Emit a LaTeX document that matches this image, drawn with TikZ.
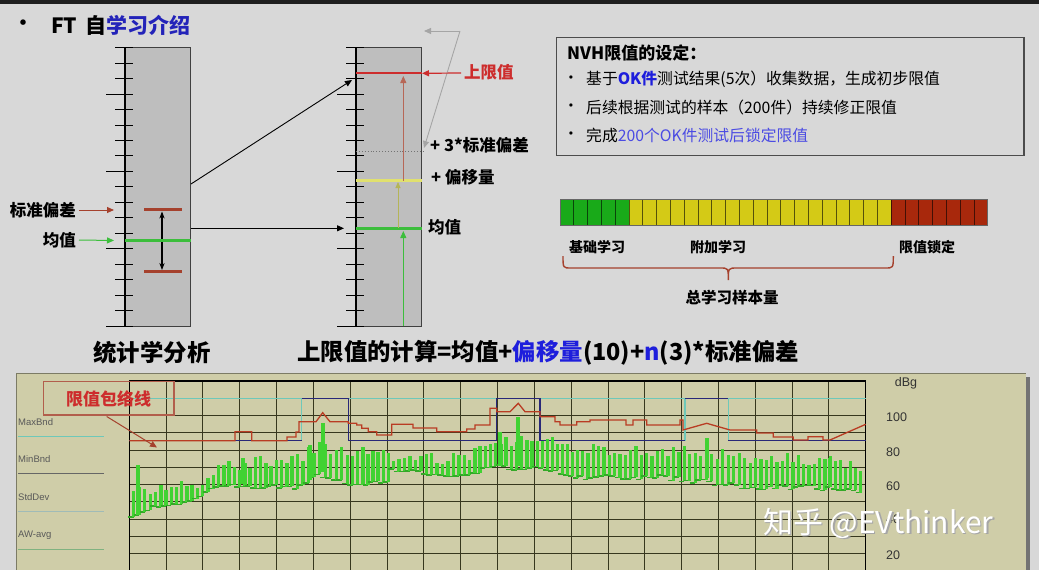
\documentclass[tikz,border=0pt]{standalone}
\usepackage{fontspec}
\setmainfont{Noto Sans CJK SC}
\newfontfamily\arialf{Liberation Sans}
\usetikzlibrary{arrows.meta}
\definecolor{bgc}{RGB}{216,216,216}
\definecolor{rulerfill}{RGB}{190,190,190}
\definecolor{tblue}{RGB}{35,35,185}
\definecolor{fblue}{RGB}{30,30,220}
\definecolor{brownr}{RGB}{165,65,45}
\definecolor{lgreen}{RGB}{60,190,60}
\definecolor{redl}{RGB}{205,45,45}
\definecolor{yell}{RGB}{225,225,110}
\definecolor{cg}{RGB}{25,170,25}
\definecolor{cy}{RGB}{212,202,22}
\definecolor{cr}{RGB}{168,40,12}
\definecolor{chartbg}{RGB}{207,205,168}
\definecolor{gridc}{RGB}{55,55,30}
\definecolor{tealc}{RGB}{110,200,185}
\definecolor{navyc}{RGB}{40,40,120}
\definecolor{envc}{RGB}{185,60,35}
\definecolor{barc}{RGB}{65,210,50}
\definecolor{ghostc}{RGB}{165,165,165}
\tikzset{
  lbl/.style={inner sep=0pt, font=\bfseries\fontsize{16.5}{18}\selectfont},
  capt/.style={inner sep=0pt, font=\bfseries\fontsize{23.4}{26}\selectfont},
  boxt/.style={inner sep=0pt, font=\fontsize{15.8}{17}\selectfont},
  barl/.style={inner sep=0pt, font=\bfseries\fontsize{14}{16}\selectfont},
  legl/.style={inner sep=0pt, font=\arialf\fontsize{9.5}{11}\selectfont, text=black!65},
  dbl/.style={inner sep=0pt, font=\arialf\fontsize{12.5}{14}\selectfont, text=black!80},
  barg/.style={draw=barc, line width=3.4pt},
  combl/.style={draw=barc!80!black, line width=1.6pt},
  tickl/.style={line width=0.9pt},
  arr/.style={-{Triangle[length=7pt,width=6pt]}},
}
\newcommand\drawruler[1]{%
  \fill[rulerfill] (#1,47.7) rectangle ({#1+65.7},326);
  \draw[black!75, line width=0.8pt] (#1,47.7) -- ({#1+65.7},47.7) -- ({#1+65.7},326) -- (#1,326);
  \draw[line width=1.1pt] (#1,47.7) -- (#1,326);
  \foreach \i in {0,...,18}{%
    \pgfmathsetmacro\yy{47.7+\i*15.46}%
    \pgfmathsetmacro\tl{mod(\i,5)==3 ? 19 : 10}%
    \draw[tickl] ({#1-\tl},\yy) -- ({#1+8},\yy);
  }%
}
\begin{document}
\begin{tikzpicture}[x=1pt,y=-1pt]
\useasboundingbox (0,0) rectangle (1039,570);
\clip (0,0) rectangle (1039,570);
\fill[bgc] (0,0) rectangle (1039,570);
\fill[black!88] (0,0) rectangle (1039,4);

% title
\node[inner sep=0pt, font=\fontsize{26}{28}\selectfont] (bul) at (23,26) {•};
\node[inner sep=0pt, anchor=west, font=\bfseries\fontsize{21}{24}\selectfont] (title) at (51,25) {FT\, 自\textcolor{tblue}{学习介绍}};

% left ruler
\drawruler{125}
\draw[brownr, line width=2.5pt] (144,209.7) -- (182,209.7);
\draw[brownr, line width=2.5pt] (144,271.7) -- (182,271.7);
\draw[line width=1.4pt, {Stealth[length=7pt]}-{Stealth[length=7pt]}] (162,211.5) -- (162,270);
\draw[lgreen, line width=3pt] (125,240.5) -- (191,240.5);
\node[lbl, anchor=east] (lsd) at (76,210) {标准偏差};
\node[lbl, anchor=east] (lmean) at (76,240) {均值};
\coordinate (lsdt) at (114,210);
\coordinate (lmeant) at (114,240.5);
\draw[brownr, line width=1pt, arr] (lsd.east) ++(3,0) -- (lsdt);
\draw[lgreen, line width=1pt, arr] (lmean.east) ++(3,0) -- (lmeant);

% connecting arrows
\coordinate (la1) at (191,184);
\coordinate (ra1) at (352,80);
\coordinate (la2) at (191,228.3);
\coordinate (ra2) at (344,228.3);
\draw[line width=0.9pt, arr] (la1) -- (ra1);
\draw[line width=0.9pt, arr] (la2) -- (ra2);

% right ruler
\drawruler{356}
\draw[redl, line width=2pt] (356,73.3) -- (421.7,73.3);
\draw[black!55, line width=0.9pt, dotted] (356,151) -- (425,151);
\draw[yell, line width=3pt] (356,180) -- (421.7,180);
\draw[lgreen, line width=2.5pt] (356,228.7) -- (421.7,228.7);
\draw[yell!80!black, line width=0.9pt, -{Triangle[length=6pt,width=5pt]}] (398,228) -- (398,182);
\draw[brownr!80, line width=0.9pt, -{Triangle[length=7pt,width=6pt]}] (403.3,181) -- (403.3,76);
\draw[lgreen, line width=0.9pt, -{Triangle[length=7pt,width=6pt]}] (403.3,326) -- (403.3,231);
% ghost arrows
\coordinate (g0) at (460,31);
\coordinate (g1) at (424,31);
\coordinate (g2) at (424,148);
\draw[ghostc, line width=0.9pt, -{Triangle[length=7pt,width=6pt]}] (g0) -- (g1);
\draw[ghostc, line width=0.9pt, -{Triangle[length=7pt,width=6pt]}] (g0) -- (g2);

\node[lbl, anchor=west, text=redl] (upper) at (464,72) {上限值};
\coordinate (uppert) at (422,73.3);
\draw[redl, line width=1.2pt, arr] (upper.west) ++(-3,1) -- (uppert);
\node[lbl, anchor=west] (p3sd) at (430,145) {+ 3*标准偏差};
\node[lbl, anchor=west] (poff) at (431,177) {+ 偏移量};
\node[lbl, anchor=west] (rmean) at (428,227) {均值};

% captions
\node[capt] (cap1) at (152,353) {统计学分析};
\node[capt, anchor=west] (cap2) at (297,353) {上限值的计算=均值+\textcolor{fblue}{偏移量}(10)+\textcolor{fblue}{n}(3)*标准偏差};

% NVH box
\draw[black!70, line width=1.2pt] (556.7,37.3) rectangle (1024,155.7);
\node[inner sep=0pt, anchor=west, font=\bfseries\fontsize{17}{19}\selectfont] (nvh) at (567,52.7) {NVH限值的设定：};
\node[boxt] (b1) at (571,79.3) {•};
\node[boxt] (b2) at (571,107.3) {•};
\node[boxt] (b3) at (571,135.3) {•};
\node[boxt, anchor=west] (t1) at (586,79.3) {基于\textcolor{fblue}{\bfseries OK件}测试结果(5次）收集数据，生成初步限值};
\node[boxt, anchor=west] (t2) at (586,107.3) {后续根据测试的样本（200件）持续修正限值};
\node[boxt, anchor=west] (t3) at (586,135.3) {完成\textcolor{fblue!80}{200个OK件测试后锁定限值}};

% colour bar
\foreach \i in {0,...,30}{%
  \pgfmathsetmacro\cx{560+\i*13.8}%
  \ifnum\i<5 \def\cc{cg}\else\ifnum\i<24 \def\cc{cy}\else\def\cc{cr}\fi\fi
  \fill[\cc] (\cx,199) rectangle ({\cx+13.8},225);
  \draw[black!60!\cc, line width=0.7pt] (\cx,199) rectangle ({\cx+13.8},225);
}
\draw[black!60, line width=0.8pt] (560,199) rectangle (987.8,225);
\node[barl, anchor=west] (l1) at (569,247) {基础学习};
\node[barl, anchor=west] (l2) at (690,247) {附加学习};
\node[barl, anchor=west] (l3) at (899,247) {限值锁定};
\draw[brownr, line width=1.4pt] (563,256) .. controls (563,268) .. (571,268) -- (720,268) .. controls (728.3,268) .. (728.3,280) .. controls (728.3,268) .. (737,268) -- (885,268) .. controls (893.3,268) .. (893.3,256);
\node[inner sep=0pt, font=\bfseries\fontsize{15.5}{17}\selectfont] (tot) at (732,298) {总学习样本量};

% chart
\fill[black!55] (20,377) rectangle (1030,575);
\fill[chartbg] (16.7,373.3) rectangle (1025.7,575);
\draw[black!40!chartbg, line width=0.8pt] (16.7,575) -- (16.7,373.3) -- (1025.7,373.3);
% grid
\foreach \i in {0,...,20}{%
  \pgfmathsetmacro\gx{129.3+\i*36.82}%
  \draw[gridc, line width=0.9pt] (\gx,381) -- (\gx,575);
}
\foreach \j in {0,...,11}{%
  \pgfmathsetmacro\gy{381+\j*17.27}%
  \draw[gridc, line width=0.9pt] (129.3,\gy) -- (865.7,\gy);
}
\draw[black, line width=1.3pt] (129.3,575) -- (129.3,381) -- (865.7,381) -- (865.7,575);

% legend
\node[legl, anchor=west] (mx) at (18,421.7) {MaxBnd};
\node[legl, anchor=west] (mn) at (18,459.3) {MinBnd};
\node[legl, anchor=west] (sd) at (18,497.3) {StdDev};
\node[legl, anchor=west] (aw) at (18,535) {AW-avg};
\draw[tealc, line width=1pt] (18,436) -- (104,436);
\draw[black!60, line width=1.3pt] (18,473.7) -- (104,473.7);
\draw[tealc!60!black!50, line width=1pt] (18,511.7) -- (104,511.7);
\draw[green!40!black!50, line width=1pt] (18,549.3) -- (104,549.3);

% axis labels
\node[dbl] (dbg) at (906,383) {dBg};
\node[dbl, anchor=west] (d100) at (886,416.7) {100};
\node[dbl, anchor=west] (d80) at (886,451.7) {80};
\node[dbl, anchor=west] (d60) at (886,486) {60};
\node[dbl, anchor=west] (d40) at (886,519.5) {40};
\node[dbl, anchor=west] (d20) at (886,555) {20};

% MaxBnd / MinBnd lines
\draw[tealc, line width=1pt] (129.3,398.3) -- (865.7,398.3);
\draw[tealc, line width=1.2pt] (301.7,398.3) -- (301.7,440.7) (685,398.3) -- (685,440.7) (728.3,398.3) -- (728.3,440.7);
\draw[navyc, line width=1.2pt] (129.3,440.7) -- (301.7,440.7) (301.7,398.3) -- (348.3,398.3) -- (348.3,440.7) -- (496.7,440.7) -- (496.7,398.3) -- (540,398.3) -- (540,440.7) -- (685,440.7) (685,398.3) -- (728.3,398.3) (728.3,440.7) -- (865.7,440.7);

% green bars
\pgfmathsetseed{7}
\foreach \xa/\ba/\ta/\xb/\bb/\tb in {131/519/490/153/507/488, 153/507/488/200/500/483, 200/500/483/216/486/467, 216/486/467/300/487/457, 300/487/457/317/475/448, 317/475/448/350/485/450, 350/485/450/391/483/455, 391/470/460/467/477/458, 467/477/458/493/467/443, 493/467/443/540/468/436, 540/468/436/580/477/450, 580/477/450/660/477/450, 660/477/450/687/480/452, 687/480/452/753/487/457, 753/487/457/833/488/460, 833/488/460/863/492/467}{%
  \pgfmathsetmacro\dx{(\xb-\xa)}%
  \pgfmathtruncatemacro\nn{max(1,round(\dx/5.3))}%
  \pgfmathsetmacro\sp{\dx/\nn}%
  \foreach \k in {1,...,\nn}{%
    \pgfmathsetmacro\tq{(\k-0.5)/\nn}%
    \pgfmathsetmacro\xx{\xa+\tq*\dx}%
    \pgfmathsetmacro\yb{\ba+\tq*(\bb-\ba)+2.5*rand}%
    \pgfmathsetmacro\yt{\ta+\tq*(\tb-\ta)+6*rand}%
    \draw[combl] ({\xx-\sp},\yb) -- (\xx,\yb);
    \draw[barg] (\xx,\yb) -- (\xx,\yt);
  }%
}
\foreach \sx/\sb/\st in {138/515/465, 243/484/458, 310/480/445, 323/472/423, 500/466/432, 518/466/417, 707/478/438, 830/486/458}{%
  \draw[barg] (\sx,\sb) -- (\sx,\st);
}

% envelope
\draw[envc, line width=1.3pt] (129.3,440.7) -- (235,440.7) -- (235,431.7) -- (251.7,431.7) -- (251.7,440.7) -- (287,440.7) -- (287,437) -- (296,437) -- (296,432) -- (299,432) -- (299,421.7) -- (316,421.7) -- (322.7,412.7) -- (330,421.7) -- (348.3,421.7) -- (348.3,423.3) -- (356.7,423.3) -- (356.7,425) -- (361.7,425) -- (361.7,428.3) -- (368.3,428.3) -- (368.3,431.7) -- (376.7,431.7) -- (376.7,435) -- (391.7,435) -- (391.7,424.3) -- (413,424.3) -- (413,428) -- (436.7,428) -- (436.7,431.7) -- (466.7,431.7) -- (466.7,429) -- (475,429) -- (475,425) -- (490,425) -- (490,408.3) -- (496.7,408.3) -- (496.7,411.7) -- (510,411.7) -- (518.3,403.3) -- (525,411.7) -- (540,411.7) -- (540,416.7) -- (555,416.7) -- (555,421.7) -- (560,421.7) -- (560,425) -- (576.7,425) -- (576.7,421.7) -- (590,421.7) -- (590,420) -- (626,420) -- (626,425) -- (633,425) -- (633,420) -- (646.7,420) -- (646.7,425) -- (680,425) -- (680,420) -- (683,420) -- (683,430) -- (706.7,423.3) -- (730,430) -- (756.7,430) -- (756.7,433) -- (773.3,433) -- (773.3,437) -- (793.3,437) -- (793.3,440) -- (808,440) -- (808,436.7) -- (823,436.7) -- (823,440) -- (830,440) -- (865.7,424.3);

% callout
\draw[brownr!85, line width=1.1pt] (43.3,381.7) rectangle (174,415);
\node[inner sep=0pt, font=\bfseries\fontsize{17}{19}\selectfont, text=redl] (env) at (108.5,399) {限值包络线};
\coordinate (envs) at (106.7,416.5);
\coordinate (envt) at (157,447.5);
\draw[brownr, line width=1pt, arr] (envs) -- (envt);

% watermark
\node[inner sep=0pt, anchor=west, font=\fontsize{30}{34}\selectfont, text=black!35] (wm0) at (764.5,524.5) {知乎 @EVthinker};
\node[inner sep=0pt, anchor=west, font=\fontsize{30}{34}\selectfont, text=white] (wm) at (763,523) {知乎 @EVthinker};
\end{tikzpicture}
\end{document}
